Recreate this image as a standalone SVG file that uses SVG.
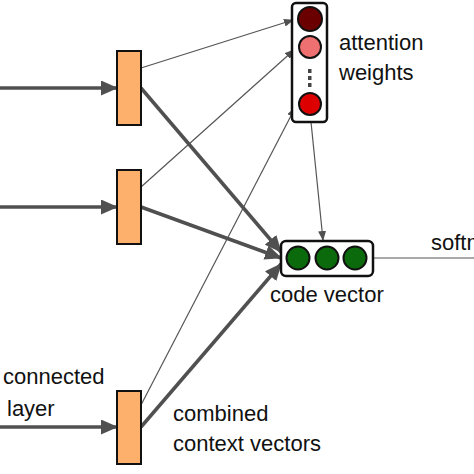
<svg xmlns="http://www.w3.org/2000/svg" width="474" height="474" viewBox="0 0 474 474">
<style>
.lbl{font-family:"Liberation Sans",Arial,sans-serif;font-size:22px;fill:#111}
.thin{stroke:#555;stroke-width:1.2;fill:none}
.thick{stroke:#505050;stroke-width:3.5;fill:none}
.bar{fill:#fdb06b;stroke:#111;stroke-width:2}
.box{fill:#fff;stroke:#111;stroke-width:2.5}
.g{fill:#0b6a0b;stroke:#111;stroke-width:2}
</style>
<defs>
<marker id="ah" markerUnits="userSpaceOnUse" markerWidth="17" markerHeight="15" refX="16" refY="7.5" orient="auto"><path d="M0,0 L17,7.5 L0,15 Z" fill="#505050"/></marker>
<marker id="as" markerUnits="userSpaceOnUse" markerWidth="10" markerHeight="8" refX="9" refY="4" orient="auto"><path d="M0,0 L10,4 L0,8 Z" fill="#505050"/></marker>
</defs>
<rect width="474" height="474" fill="#fff"/>
<g id="connectors">
<line class="thick" x1="0" y1="88" x2="117" y2="88" marker-end="url(#ah)"/>
<line class="thick" x1="0" y1="207" x2="117" y2="207" marker-end="url(#ah)"/>
<line class="thick" x1="0" y1="427" x2="117" y2="427" marker-end="url(#ah)"/>
<line class="thin" x1="141" y1="68" x2="293" y2="20" marker-end="url(#as)"/>
<line class="thin" x1="141" y1="187" x2="294" y2="50" marker-end="url(#as)"/>
<line class="thin" x1="141" y1="405" x2="295" y2="108" marker-end="url(#as)"/>
<line class="thin" x1="311" y1="122" x2="323" y2="240" marker-end="url(#as)"/>
<line class="thick" x1="141" y1="88" x2="281" y2="252" marker-end="url(#ah)"/>
<line class="thick" x1="141" y1="207" x2="281" y2="258" marker-end="url(#ah)"/>
<line class="thick" x1="141" y1="427" x2="281" y2="264" marker-end="url(#ah)"/>
<line class="thin" x1="373" y1="258" x2="474" y2="258"/>
</g>
<g id="bar1"><rect class="bar" x="117" y="51" width="24" height="74"/></g>
<g id="bar2"><rect class="bar" x="117" y="170" width="24" height="74"/></g>
<g id="bar3"><rect class="bar" x="117" y="391" width="24" height="73"/></g>
<g id="attention">
<rect class="box" x="292" y="3" width="35" height="119" rx="4"/>
<circle cx="310" cy="19" r="12" fill="#6a0000" stroke="#111" stroke-width="2"/>
<circle cx="310" cy="47" r="11" fill="#ef7070" stroke="#111" stroke-width="2"/>
<rect x="308" y="69" width="3.5" height="4" fill="#444"/>
<rect x="308" y="76" width="3.5" height="4" fill="#444"/>
<rect x="308" y="83" width="3.5" height="4" fill="#444"/>
<circle cx="310" cy="104" r="11" fill="#dc0000" stroke="#111" stroke-width="2"/>
<text class="lbl" x="339" y="50">attention</text>
<text class="lbl" x="339" y="80">weights</text>
</g>
<g id="code">
<rect class="box" x="281" y="241" width="92" height="35" rx="5"/>
<circle class="g" cx="298" cy="258" r="11.5"/>
<circle class="g" cx="327" cy="258" r="11.5"/>
<circle class="g" cx="355" cy="258" r="11.5"/>
<text class="lbl" x="270" y="302">code vector</text>
</g>
<g id="labels">
<text class="lbl" x="431" y="250">softmax</text>
<text class="lbl" x="3" y="384">connected</text>
<text class="lbl" x="7" y="416">layer</text>
<text class="lbl" x="173" y="421">combined</text>
<text class="lbl" x="173" y="451">context vectors</text>
</g>
</svg>
